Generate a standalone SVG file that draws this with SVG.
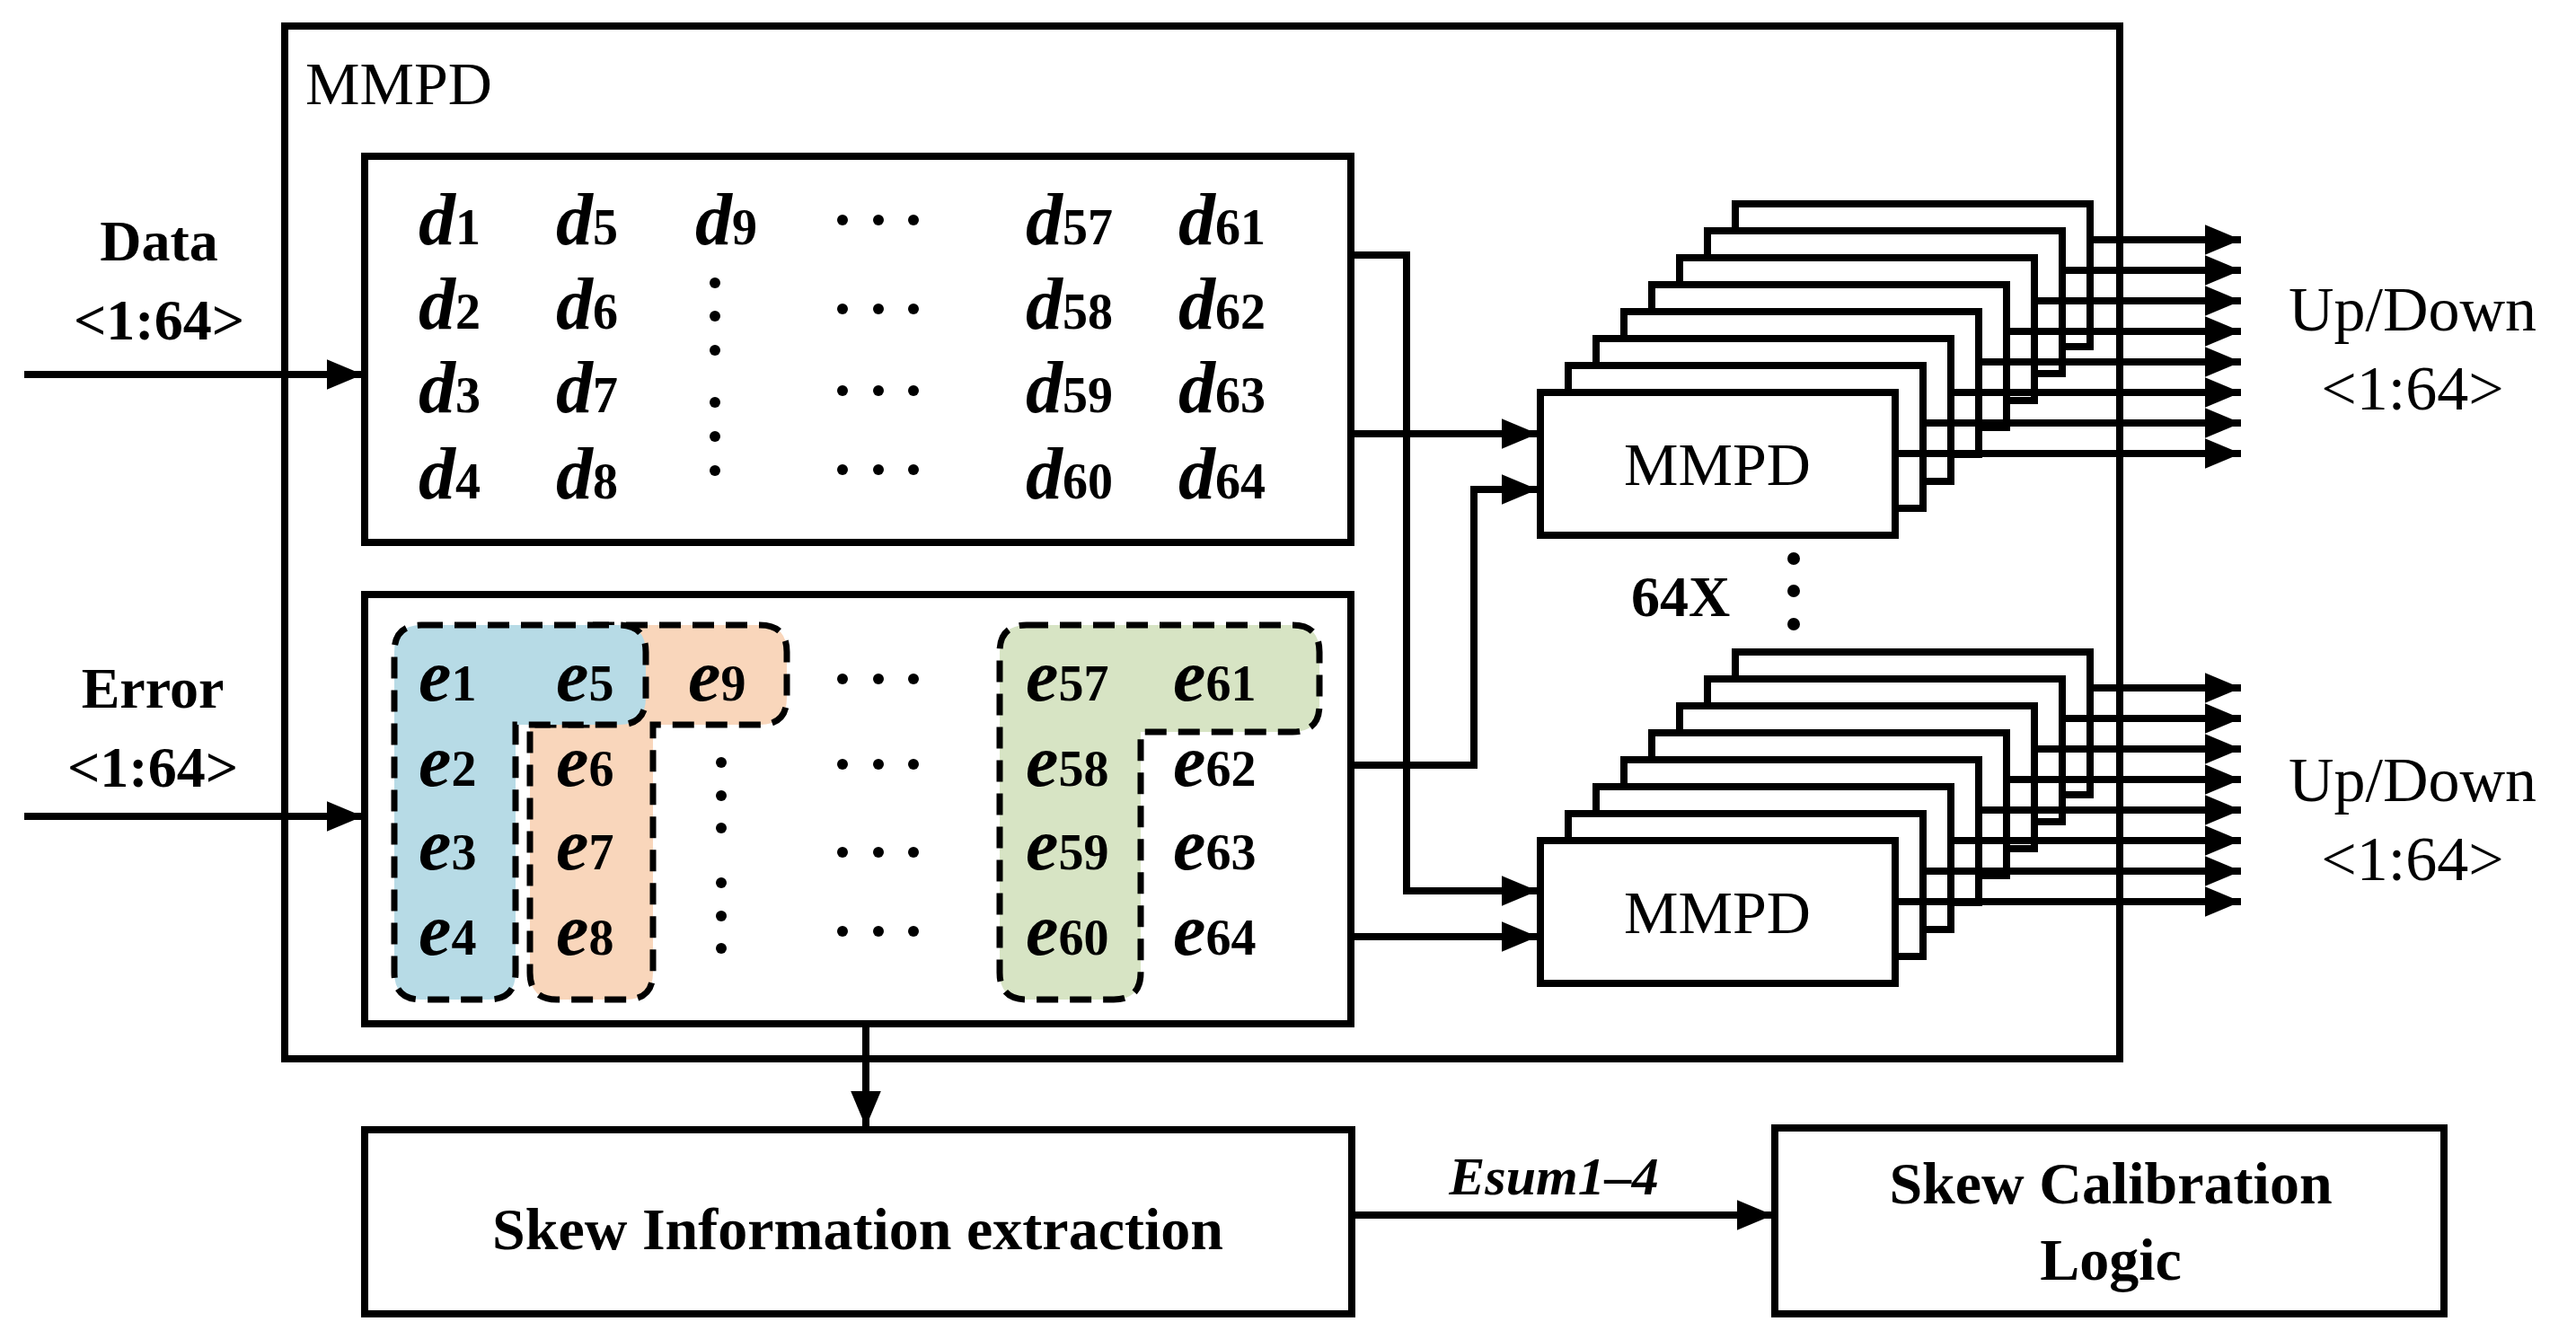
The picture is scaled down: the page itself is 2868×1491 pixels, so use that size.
<svg xmlns="http://www.w3.org/2000/svg" width="2868" height="1491" viewBox="0 0 2868 1491">
<style>
.b{fill:#fff;stroke:#000;stroke-width:8}
.ln{fill:none;stroke:#000;stroke-width:8}
.t{font-family:"Liberation Serif",serif;font-weight:bold;fill:#000}
.v{font-style:italic;font-size:82px}
.n{font-style:normal;font-size:56px}
.r{stroke:#000;stroke-width:7;stroke-dasharray:24 13}
</style>
<defs>
<marker id="a" viewBox="0 0 10 10" refX="10" refY="5" markerWidth="5" markerHeight="4.2" orient="auto" markerUnits="strokeWidth" preserveAspectRatio="none"><path d="M0 0L10 5L0 10Z"/></marker>
<g id="stk">
<rect class="b" x="217" y="-210" width="395" height="159"/>
<rect class="b" x="186" y="-180" width="395" height="159"/>
<rect class="b" x="155" y="-150" width="395" height="159"/>
<rect class="b" x="124" y="-120" width="395" height="159"/>
<rect class="b" x="93" y="-90" width="395" height="159"/>
<rect class="b" x="62" y="-60" width="395" height="159"/>
<rect class="b" x="31" y="-30" width="395" height="159"/>
<rect class="b" x="0" y="0" width="395" height="159"/>
<text class="t" x="197" y="103" font-size="68" font-weight="normal" text-anchor="middle" style="font-weight:normal">MMPD</text>
<g class="ln" marker-end="url(#a)">
<path d="M612 -170H780"/><path d="M581 -136H780"/><path d="M550 -102H780"/><path d="M519 -68H780"/>
<path d="M488 -34H780"/><path d="M457 0H780"/><path d="M426 34H780"/><path d="M395 68H780"/>
</g>
</g>
</defs>
<g id="outer"><rect class="b" x="317" y="29" width="2043" height="1150"/>
<text class="t" x="340" y="116" font-size="68" style="font-weight:normal">MMPD</text></g>

<g id="data"><rect class="b" x="406" y="174" width="1098" height="430"/>
<g class="t">
<text y="272"><tspan class="v" x="466">d</tspan><tspan class="n">1</tspan><tspan class="v" x="619">d</tspan><tspan class="n">5</tspan><tspan class="v" x="774">d</tspan><tspan class="n">9</tspan><tspan class="v" x="1142">d</tspan><tspan class="n">57</tspan><tspan class="v" x="1312">d</tspan><tspan class="n">61</tspan></text>
<text y="366"><tspan class="v" x="466">d</tspan><tspan class="n">2</tspan><tspan class="v" x="619">d</tspan><tspan class="n">6</tspan><tspan class="v" x="1142">d</tspan><tspan class="n">58</tspan><tspan class="v" x="1312">d</tspan><tspan class="n">62</tspan></text>
<text y="459"><tspan class="v" x="466">d</tspan><tspan class="n">3</tspan><tspan class="v" x="619">d</tspan><tspan class="n">7</tspan><tspan class="v" x="1142">d</tspan><tspan class="n">59</tspan><tspan class="v" x="1312">d</tspan><tspan class="n">63</tspan></text>
<text y="555"><tspan class="v" x="466">d</tspan><tspan class="n">4</tspan><tspan class="v" x="619">d</tspan><tspan class="n">8</tspan><tspan class="v" x="1142">d</tspan><tspan class="n">60</tspan><tspan class="v" x="1312">d</tspan><tspan class="n">64</tspan></text>
</g>
<g>
<circle cx="938" cy="245" r="6"/><circle cx="978" cy="245" r="6"/><circle cx="1017" cy="245" r="6"/>
<circle cx="938" cy="344" r="6"/><circle cx="978" cy="344" r="6"/><circle cx="1017" cy="344" r="6"/>
<circle cx="938" cy="435" r="6"/><circle cx="978" cy="435" r="6"/><circle cx="1017" cy="435" r="6"/>
<circle cx="938" cy="523" r="6"/><circle cx="978" cy="523" r="6"/><circle cx="1017" cy="523" r="6"/>
<circle cx="796" cy="315" r="6"/><circle cx="796" cy="352" r="6"/><circle cx="796" cy="390" r="6"/>
<circle cx="796" cy="448" r="6"/><circle cx="796" cy="486" r="6"/><circle cx="796" cy="524" r="6"/>
</g></g>

<g id="error"><rect class="b" x="406" y="662" width="1098" height="478"/>
<path class="r" fill="#f9d6bb" d="M660 696H846Q876 696 876 726V777Q876 807 846 807H727V1083Q727 1113 697 1113H620Q590 1113 590 1083V807H660Z"/>
<path class="r" fill="#b7dbe6" d="M469 696H689Q719 696 719 726V777Q719 807 689 807H574V1083Q574 1113 544 1113H469Q439 1113 439 1083V726Q439 696 469 696Z"/>
<path class="r" fill="#d7e4c4" d="M1143 696H1439Q1469 696 1469 726V785Q1469 815 1439 815H1270V1083Q1270 1113 1240 1113H1143Q1113 1113 1113 1083V726Q1113 696 1143 696Z"/>
<g class="t">
<text y="780"><tspan class="v" x="466">e</tspan><tspan class="n">1</tspan><tspan class="v" x="619">e</tspan><tspan class="n">5</tspan><tspan class="v" x="766">e</tspan><tspan class="n">9</tspan><tspan class="v" x="1142">e</tspan><tspan class="n">57</tspan><tspan class="v" x="1306">e</tspan><tspan class="n">61</tspan></text>
<text y="875"><tspan class="v" x="466">e</tspan><tspan class="n">2</tspan><tspan class="v" x="619">e</tspan><tspan class="n">6</tspan><tspan class="v" x="1142">e</tspan><tspan class="n">58</tspan><tspan class="v" x="1306">e</tspan><tspan class="n">62</tspan></text>
<text y="968"><tspan class="v" x="466">e</tspan><tspan class="n">3</tspan><tspan class="v" x="619">e</tspan><tspan class="n">7</tspan><tspan class="v" x="1142">e</tspan><tspan class="n">59</tspan><tspan class="v" x="1306">e</tspan><tspan class="n">63</tspan></text>
<text y="1063"><tspan class="v" x="466">e</tspan><tspan class="n">4</tspan><tspan class="v" x="619">e</tspan><tspan class="n">8</tspan><tspan class="v" x="1142">e</tspan><tspan class="n">60</tspan><tspan class="v" x="1306">e</tspan><tspan class="n">64</tspan></text>
</g>
<g>
<circle cx="938" cy="756" r="6"/><circle cx="978" cy="756" r="6"/><circle cx="1017" cy="756" r="6"/>
<circle cx="938" cy="851" r="6"/><circle cx="978" cy="851" r="6"/><circle cx="1017" cy="851" r="6"/>
<circle cx="938" cy="949" r="6"/><circle cx="978" cy="949" r="6"/><circle cx="1017" cy="949" r="6"/>
<circle cx="938" cy="1037" r="6"/><circle cx="978" cy="1037" r="6"/><circle cx="1017" cy="1037" r="6"/>
<circle cx="803" cy="849" r="6"/><circle cx="803" cy="886" r="6"/><circle cx="803" cy="922" r="6"/>
<circle cx="803" cy="983" r="6"/><circle cx="803" cy="1020" r="6"/><circle cx="803" cy="1056" r="6"/>
</g></g>

<g id="mmpd-top"><use href="#stk" x="1715" y="437"/></g>
<g id="mmpd-bot"><use href="#stk" x="1715" y="936"/></g>

<g id="labels" class="t" text-anchor="middle">
<text x="177" y="290" font-size="64">Data</text>
<text x="177" y="378" font-size="64">&lt;1:64&gt;</text>
<text x="170" y="788" font-size="64">Error</text>
<text x="170" y="876" font-size="64">&lt;1:64&gt;</text>
<text x="2686" y="368" font-size="70" style="font-weight:normal">Up/Down</text>
<text x="2686" y="456" font-size="70" style="font-weight:normal">&lt;1:64&gt;</text>
<text x="2686" y="892" font-size="70" style="font-weight:normal">Up/Down</text>
<text x="2686" y="980" font-size="70" style="font-weight:normal">&lt;1:64&gt;</text>
<text x="1871" y="686" font-size="64">64X</text>
<text x="1730" y="1330" font-size="60" font-style="italic">Esum1–4</text>
</g>
<circle cx="1997" cy="622" r="7"/><circle cx="1997" cy="658" r="7"/><circle cx="1997" cy="695" r="7"/>

<g id="skew-info"><rect class="b" x="406" y="1258" width="1099" height="205"/>
<text class="t" x="955" y="1391" font-size="66" text-anchor="middle">Skew Information extraction</text></g>
<g id="skew-cal"><rect class="b" x="1976" y="1256" width="745" height="207"/>
<text class="t" x="2350" y="1340" font-size="66" text-anchor="middle">Skew Calibration</text>
<text class="t" x="2350" y="1425" font-size="66" text-anchor="middle">Logic</text></g>

<g id="connectors" class="ln">
<path d="M27 417H404" marker-end="url(#a)"/>
<path d="M27 909H404" marker-end="url(#a)"/>
<path d="M1504 284H1566V992H1712" marker-end="url(#a)"/>
<path d="M1504 483H1712" marker-end="url(#a)"/>
<path d="M1504 852H1641V545H1712" marker-end="url(#a)"/>
<path d="M1504 1043H1712" marker-end="url(#a)"/>
<path d="M964 1140V1255" marker-end="url(#a)"/>
<path d="M1505 1353H1974" marker-end="url(#a)"/>
</g>
</svg>
